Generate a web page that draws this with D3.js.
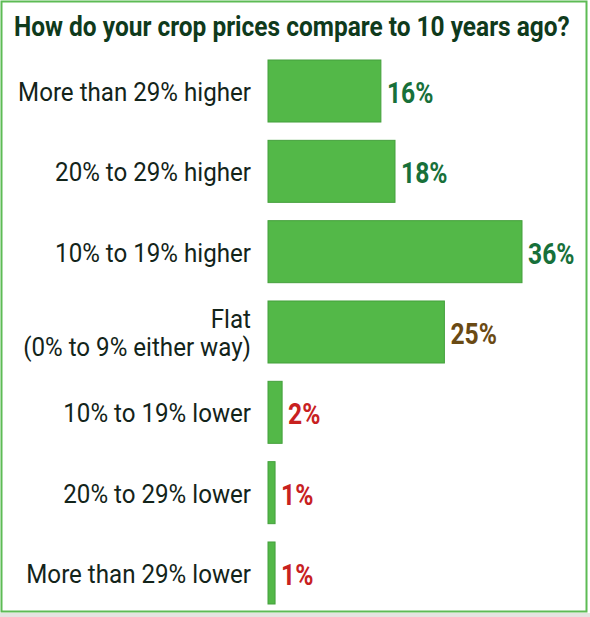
<!DOCTYPE html>
<html>
<head>
<meta charset="utf-8">
<script src="https://cdn.jsdelivr.net/npm/d3@7"></script>
<style>
  body { margin: 0; background: #fff; }
  svg { display: block; }
</style>
</head>
<body>
<div id="chart"></div>
<script>
let width = 590, height = 617

// DATA
let categories = ['More than 29% higher', '20% to 29% higher', '10% to 19% higher',
  'Flat|(0% to 9% either way)', '10% to 19% lower', '20% to 29% lower', 'More than 29% lower']
let values = [16, 18, 36, 25, 2, 1, 1]
let groups = ['higher', 'higher', 'higher', 'flat', 'lower', 'lower', 'lower']

let valueColor = { higher: '#17703a', flat: '#6a4a14', lower: '#c8211f' }
let font = 'Roboto, "Liberation Sans", sans-serif'

let svg = d3.select('#chart')
  .append('svg')
  .attr('width', width)
  .attr('height', height)

// frame
svg.append('rect')
  .attr('x', 1.5).attr('y', 1.5)
  .attr('width', 585).attr('height', 610)
  .attr('fill', '#fff')
  .attr('stroke', '#5dbb55')
  .attr('stroke-width', 2)

svg.append('rect')
  .attr('x', 0).attr('y', 613)
  .attr('width', width).attr('height', 4)
  .attr('fill', '#e4e4e0')

let title = svg.append('text')
  .attr('x', 0)
  .attr('y', 36)
  .style('font-family', font)
  .style('font-weight', 'bold')
  .style('font-size', '28px')
  .style('fill', '#0f3a1c')
  .text('How do your crop prices compare to 10 years ago?')

let titleScale = 556 / title.node().getComputedTextLength()
title.attr('transform', 'translate(14,0) scale(' + titleScale + ',1)')

// SCALES
let x = d3.scaleLinear()
  .domain([0, 36])
  .range([268, 522])

let y = d3.scaleBand()
  .domain(categories)
  .range([60, 604])
  .paddingInner(0.228)
  .paddingOuter(0)

let rows = svg.selectAll('.row')
  .data(categories)
  .enter().append('g')
  .attr('class', 'row')

rows.append('rect')
  .attr('x', x(0))
  .attr('y', d => y(d))
  .attr('width', (d, i) => x(values[i]) - x(0))
  .attr('height', y.bandwidth())
  .style('fill', '#53b848')
  .style('stroke', '#44a03c')
  .style('stroke-width', 1)

let nums = rows.append('text')
  .attr('y', d => y(d) + y.bandwidth() / 2 + 12)
  .style('font-family', font)
  .style('font-weight', 'bold')
  .style('font-size', '29px')
  .style('fill', (d, i) => valueColor[groups[i]])
  .text((d, i) => values[i] + '%')

// squeeze value labels to a condensed look
let numScale = 46.5 / nums.node().getComputedTextLength()
nums.attr('transform', (d, i) => {
  let x0 = x(values[i]) + 6
  return 'translate(' + x0 + ',0) scale(' + numScale + ',1)'
})

let labels = rows.append('text')
  .attr('text-anchor', 'end')
  .style('font-family', font)
  .style('font-size', '26px')
  .style('fill', '#13241a')

labels.each(function (d) {
  let lines = d.split('|')
  let cy = y(d) + y.bandwidth() / 2 + 10
  let t = d3.select(this)
  lines.forEach((line, j) => {
    t.append('tspan')
      .attr('x', 0)
      .attr('y', cy + (j - (lines.length - 1) / 2) * 28)
      .text(line)
  })
})

let labScale = 233 / labels.node().getComputedTextLength()
labels.attr('transform', 'translate(251,0) scale(' + labScale + ',1)')
</script>
</body>
</html>
